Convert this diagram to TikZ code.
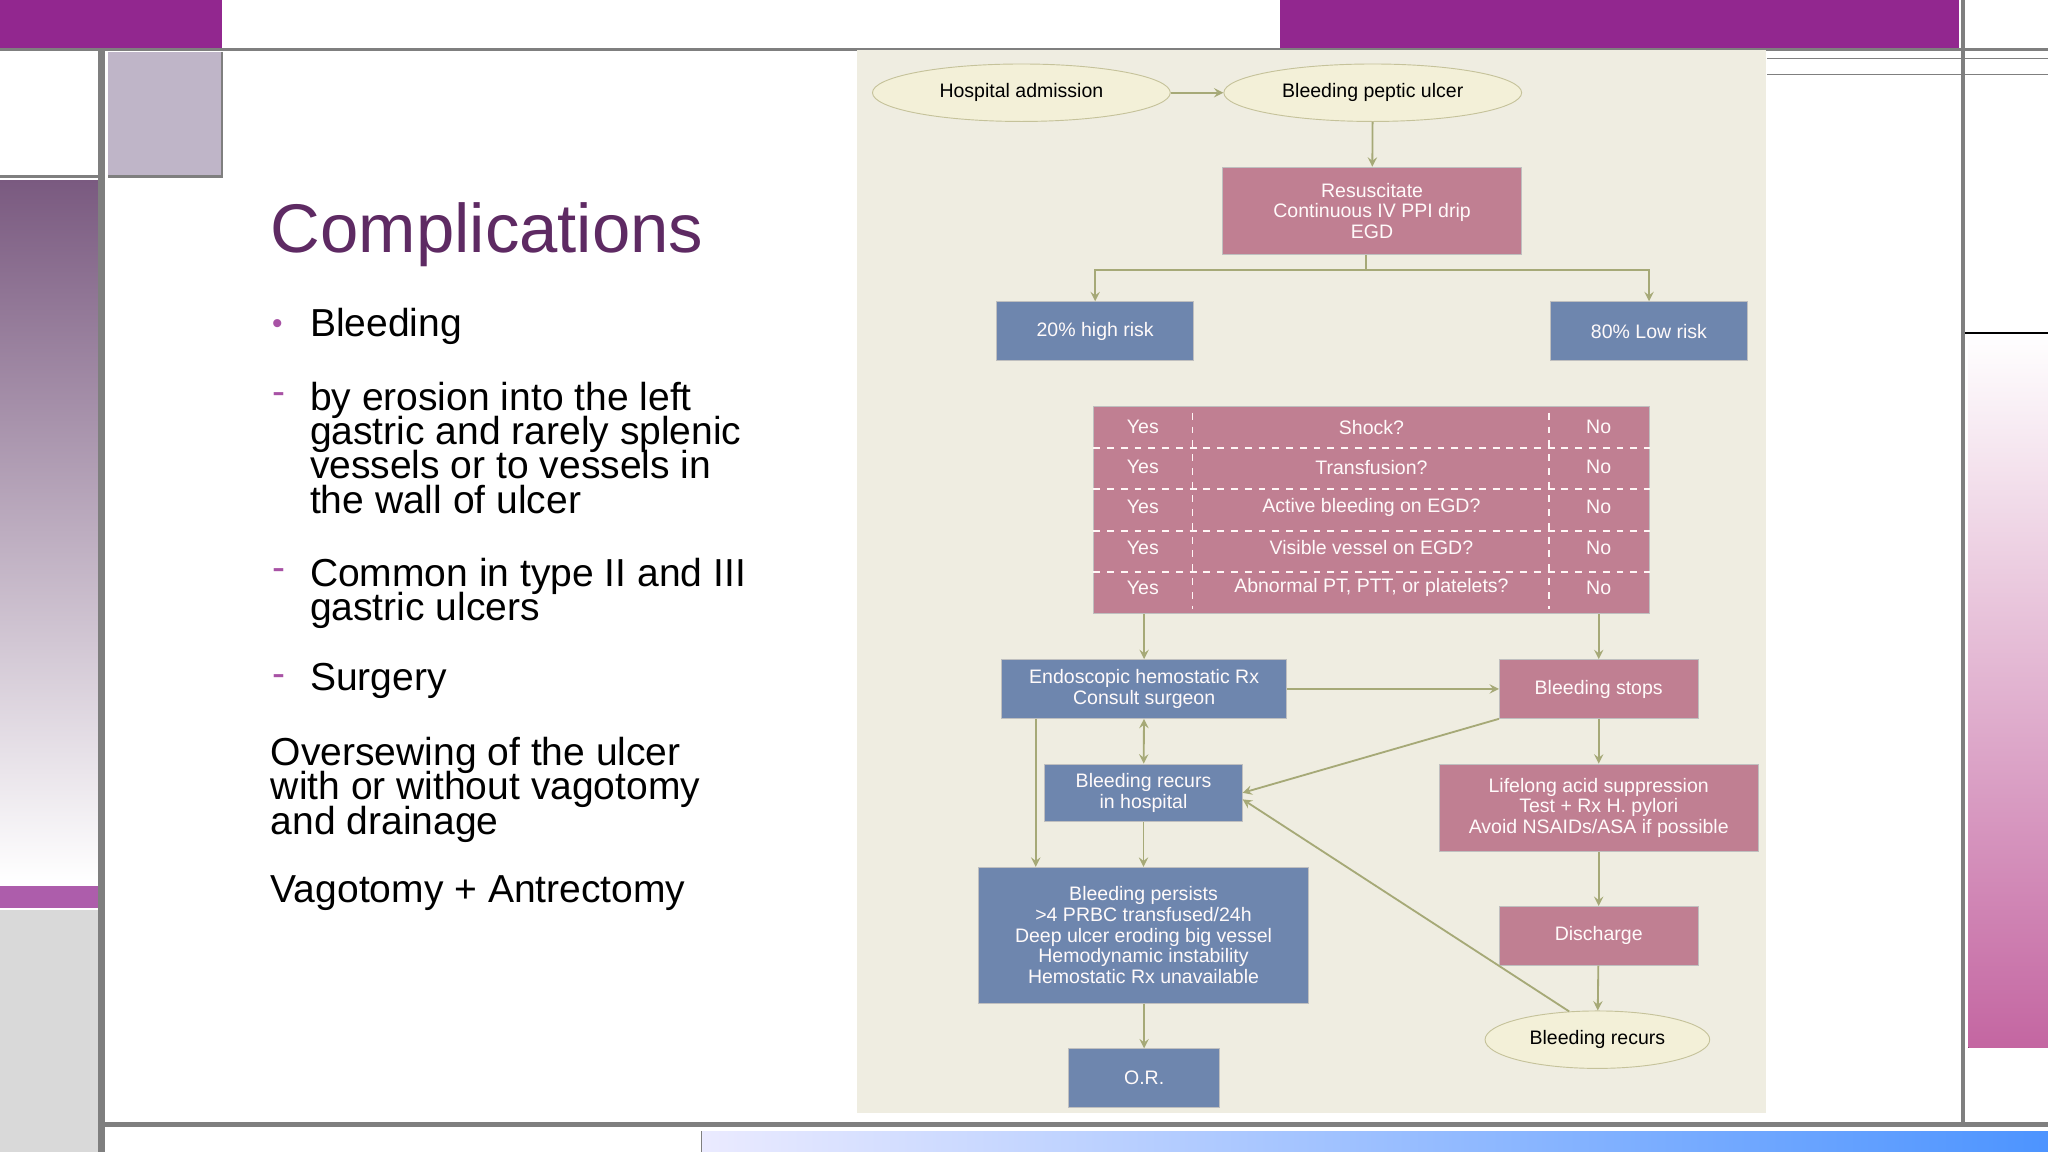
\documentclass[tikz,border=0pt]{standalone}
\usepackage{fontspec}
\setmainfont{Liberation Sans}
\usetikzlibrary{arrows,shapes.geometric,positioning}
\definecolor{slidepurple}{HTML}{92278F}
\definecolor{titlepurple}{HTML}{5E2A63}
\definecolor{framegray}{HTML}{7F7F7F}
\definecolor{chartbg}{HTML}{EFEDE1}
\definecolor{pinkbox}{HTML}{C07F92}
\definecolor{bluebox}{HTML}{6E86AE}
\definecolor{ovalfill}{HTML}{F3F0D8}
\definecolor{ovaledge}{HTML}{C5C29A}
\definecolor{flowline}{HTML}{A6A977}
\definecolor{lavgray}{HTML}{BFB5C8}
\definecolor{sideviolet}{HTML}{7A5A80}
\newcommand{\slidefont}{\fontsize{17}{15}\selectfont\setlength{\lineskiplimit}{-20pt}\setlength{\lineskip}{0pt}}
\begin{document}
\begin{tikzpicture}[x=0.2mm,y=-0.2mm,>=stealth,
  box/.style={rectangle,draw=black!25,text=white!92!pink,font=\fontsize{8.5}{9}\selectfont,align=center,inner sep=0pt},
  pink/.style={box,fill=pinkbox},
  blue/.style={box,fill=bluebox},
  oval/.style={ellipse,draw=ovaledge,fill=ovalfill,font=\fontsize{8.5}{9}\selectfont,inner sep=0pt},
  flow/.style={->,flowline,thick},
  slidetxt/.style={anchor=north west,align=left,font=\slidefont,inner sep=0pt}]

\useasboundingbox (0,0) rectangle (1568,882);
% slide frame
\fill[white] (0,0) rectangle (1568,882);
\fill[slidepurple] (0,0) rectangle (170,37);
\fill[slidepurple] (980,0) rectangle (1500,37);
\fill[top color=sideviolet,bottom color=white] (0,138) rectangle (75,675);
\fill[slidepurple!75] (0,678) rectangle (78,695);
\fill[black!15] (0,697) rectangle (75,882);
\fill[lavgray] (83,40) rectangle (170,135);
\draw[framegray,line width=1.2pt] (83,135) -- (170,135) -- (170,40);
\draw[framegray,line width=1.2pt] (0,135) -- (75,135);
\fill[top color=white,bottom color=purple!45!violet!60] (1507,255) rectangle (1568,802);
\draw[black,line width=1pt] (1503,255) -- (1568,255);
\draw[framegray] (1353,45) -- (1568,45) (1353,57) -- (1568,57);
\fill[left color=blue!8,right color=blue!60!cyan!70] (537,866) rectangle (1568,882);
\draw[framegray] (537,866) -- (537,882);
\draw[framegray,line width=1.5pt] (0,38) -- (1568,38);
\draw[framegray,line width=3pt] (78,38) -- (78,882);
\draw[framegray,line width=2pt] (1503,0) -- (1503,862);
\draw[framegray,line width=2.5pt] (78,861) -- (1568,861);

% slide text
\node[anchor=west,inner sep=0pt,text=titlepurple,font=\fontsize{30}{30}\selectfont] (title) at (207,180) {Complications};
\node[anchor=west,inner sep=0pt,text=slidepurple!80,font=\fontsize{13}{13}\selectfont] (dot1) at (208,250) {•};
\node[anchor=west,inner sep=0pt,font=\slidefont] (it1) at (237,250) {Bleeding};
\foreach \n/\y in {2/305,3/440,4/521}
  \node[anchor=west,inner sep=0pt,font=\slidefont,text=slidepurple!80] (dash\n) at (208,\y) {-};
\node[slidetxt] (it2) at (237,292) {by erosion into the left\\gastric and rarely splenic\\vessels or to vessels in\\the wall of ulcer};
\node[slidetxt] (it3) at (237,427) {Common in type II and III\\gastric ulcers};
\node[anchor=west,inner sep=0pt,font=\slidefont] (it4) at (237,521) {Surgery};
\node[slidetxt] (it5) at (207,564) {Oversewing of the ulcer\\with or without vagotomy\\and drainage};
\node[anchor=west,inner sep=0pt,font=\slidefont] (it6) at (207,684) {Vagotomy + Antrectomy};

% flowchart
\fill[chartbg] (656,38) rectangle (1352,852);
\node[oval,minimum width=228*0.2mm,minimum height=44*0.2mm] (admit) at (782,71) {Hospital admission};
\node[oval,minimum width=228*0.2mm,minimum height=44*0.2mm] (ulcer) at (1051,71) {Bleeding peptic ulcer};
\node[pink,minimum width=229*0.2mm,minimum height=67*0.2mm] (resus) at (1050.5,161.5) {Resuscitate\\Continuous IV PPI drip\\EGD};
\node[blue,minimum width=151*0.2mm,minimum height=45*0.2mm] (high) at (838.5,253.5) {20\% high risk};
\node[blue,minimum width=151*0.2mm,minimum height=45*0.2mm] (low) at (1262.5,253.5) {80\% Low risk};
\node[pink,minimum width=426*0.2mm,minimum height=159*0.2mm] (tbl) at (1050,390.5) {};
\foreach \i/\q in {0/Shock?,1/Transfusion?,2/Active bleeding on EGD?,3/Visible vessel on EGD?,4/{Abnormal PT, PTT, or platelets?}}{
  \node[box,draw=none] (yes\i) at (875,327+\i*30.7) {Yes};
  \node[box,draw=none] (q\i) at (1050,327+\i*30.7) {\q};
  \node[box,draw=none] (no\i) at (1224,327+\i*30.7) {No};
}
\foreach \i in {1,...,4}
  \draw[white!85!pink,dashed,thick] (837,311+\i*31.8) -- (1263,311+\i*31.8);
\draw[white!85!pink,dashed,thick] (913,316) -- (913,466) (1186,316) -- (1186,466);
\node[blue,minimum width=218*0.2mm,minimum height=45*0.2mm] (endo) at (876,527.5) {Endoscopic hemostatic Rx\\Consult surgeon};
\node[pink,minimum width=152*0.2mm,minimum height=45*0.2mm] (stops) at (1224,527.5) {Bleeding stops};
\node[blue,minimum width=151*0.2mm,minimum height=44*0.2mm] (rehosp) at (875.5,607) {Bleeding recurs\\in hospital};
\node[pink,minimum width=244*0.2mm,minimum height=67*0.2mm] (life) at (1224,618.5) {Lifelong acid suppression\\Test + Rx H. pylori\\Avoid NSAIDs/ASA if possible};
\node[blue,minimum width=253*0.2mm,minimum height=104*0.2mm] (persist) at (875.5,716) {Bleeding persists\\>4 PRBC transfused/24h\\Deep ulcer eroding big vessel\\Hemodynamic instability\\Hemostatic Rx unavailable};
\node[pink,minimum width=152*0.2mm,minimum height=45*0.2mm] (dis) at (1224,716.5) {Discharge};
\node[oval,minimum width=172*0.2mm,minimum height=44*0.2mm] (recur) at (1223,796) {Bleeding recurs};
\node[blue,minimum width=116*0.2mm,minimum height=45*0.2mm] (or) at (876,825.5) {O.R.};

\coordinate (split) at (1046,207);
\draw[flow] (admit) -- (ulcer);
\draw[flow] (ulcer) -- (resus);
\draw[flowline,thick] (resus.south -| split) -- (split);
\draw[flow] (split) -| (high);
\draw[flow] (split) -| (low);
\draw[flow] (tbl.south -| endo) -- (endo);
\draw[flow] (tbl.south -| stops) -- (stops);
\draw[flow] (endo) -- (stops);
\draw[flow] (endo.south -| 793,0) -- (persist.north -| 793,0);
\draw[flow,<->] (endo) -- (rehosp);
\draw[flow] (rehosp) -- (persist.north -| rehosp);
\draw[flow] (stops.south west) -- (rehosp.east);
\draw[flow] (stops) -- (life);
\draw[flow] (life) -- (dis);
\draw[flow] (dis) -- (recur);
\draw[flow] (recur.135) -- ([yshift=-1mm]rehosp.east);
\draw[flow] (persist.south -| or) -- (or);
\end{tikzpicture}
\end{document}
